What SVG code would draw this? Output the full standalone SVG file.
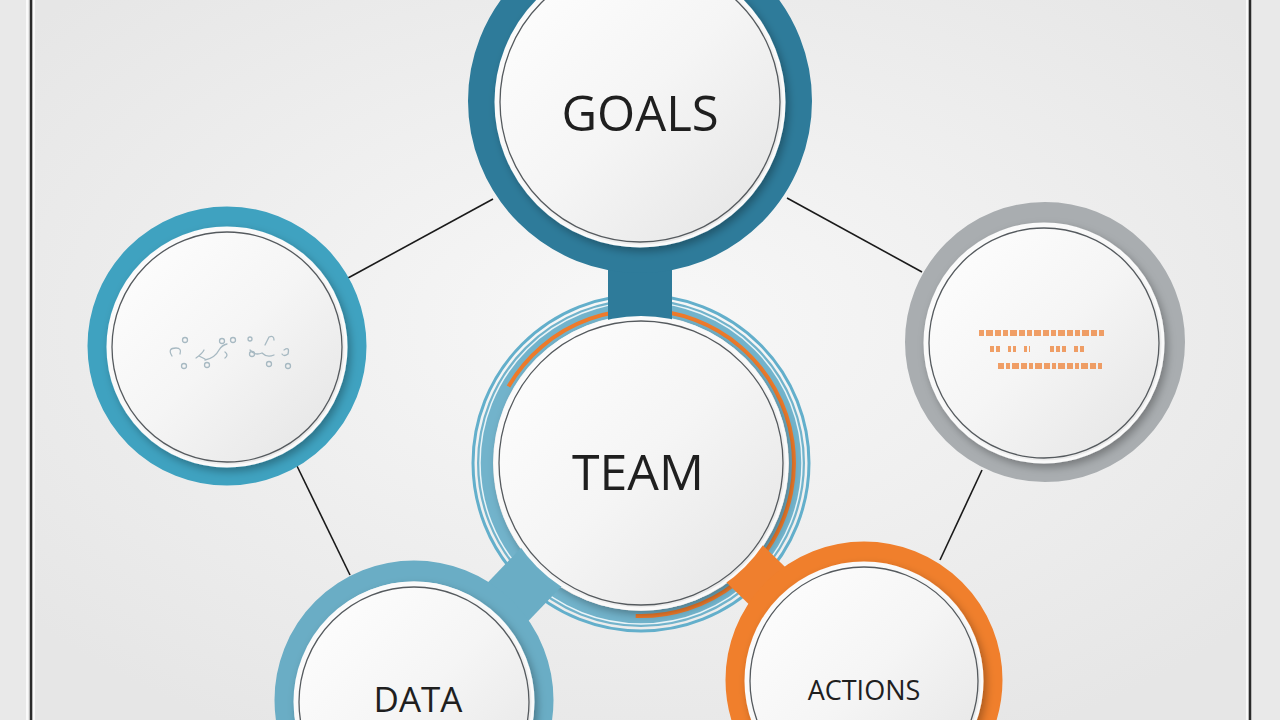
<svg xmlns="http://www.w3.org/2000/svg" width="1280" height="720" viewBox="0 0 1280 720">
<defs>
<style>
.lbl{font-family:"Open Sans","Noto Sans","Liberation Sans",sans-serif;fill:#1f1f1f;text-anchor:middle}
.edge{stroke:#1a1a1a;stroke-width:1.6;fill:none}
.disc{fill:url(#discGrad);stroke:#fafafa;stroke-width:3;filter:url(#shadow)}
.outline{fill:none;stroke:#555a5e;stroke-width:1.3}
</style>
<radialGradient id="bg" cx="50%" cy="45%" r="65%">
<stop offset="0" stop-color="#f8f8f8"/>
<stop offset="1" stop-color="#e6e6e6"/>
</radialGradient>
<linearGradient id="discGrad" x1="0" y1="0" x2="1" y2="1">
<stop offset="0" stop-color="#ffffff"/>
<stop offset="0.5" stop-color="#f5f5f5"/>
<stop offset="1" stop-color="#e3e3e3"/>
</linearGradient>
<filter id="shadow" x="-20%" y="-20%" width="140%" height="140%">
<feDropShadow dx="3" dy="4" stdDeviation="4" flood-color="#000" flood-opacity="0.3"/>
</filter>
<mask id="teamMask">
<rect x="0" y="0" width="1280" height="720" fill="#fff"/>
<circle cx="641" cy="463" r="147" fill="#000"/>
</mask>
</defs>

<rect x="0" y="0" width="1280" height="720" fill="#e9e9e9"/>
<rect x="32" y="0" width="1218" height="720" fill="url(#bg)"/>
<g id="frame">
<line x1="27" y1="0" x2="27" y2="720" stroke="#ffffff" stroke-width="1.5"/>
<line x1="31" y1="0" x2="31" y2="720" stroke="#2a2a2a" stroke-width="2.5"/>
<line x1="34" y1="0" x2="34" y2="720" stroke="#ffffff" stroke-width="1.5"/>
<line x1="1247" y1="0" x2="1247" y2="720" stroke="#ffffff" stroke-width="1.5"/>
<line x1="1250" y1="0" x2="1250" y2="720" stroke="#2a2a2a" stroke-width="2.5"/>
</g>

<g id="team">
<circle cx="641" cy="463" r="168" fill="none" stroke="#63afcb" stroke-width="3"/>
<circle cx="641" cy="463" r="156" fill="none" stroke="#72b3cb" stroke-width="16"/>
<circle cx="641" cy="463" r="161" fill="none" stroke="#e9f4f8" stroke-width="1.5"/>
<path d="M 508.5 386.5 A 153 153 0 1 1 635.7 616" fill="none" stroke="#ee7a2a" stroke-width="4"/>
<circle cx="641" cy="463" r="146" class="disc"/>
<circle cx="641" cy="463" r="142" class="outline"/>
<text class="lbl" x="638" y="490" font-size="50">TEAM</text>
</g>

<g id="connectors">
<line class="edge" x1="493" y1="199" x2="348" y2="278"/>
<line class="edge" x1="787" y1="198" x2="922" y2="272"/>
<line class="edge" x1="297" y1="466" x2="350" y2="575"/>
<line class="edge" x1="982" y1="470" x2="940" y2="560"/>
<g mask="url(#teamMask)">
<line x1="640" y1="150" x2="640" y2="463" stroke="#2e7b9a" stroke-width="64"/>
<line x1="641" y1="463" x2="414" y2="700" stroke="#6aadc5" stroke-width="56"/>
<line x1="641" y1="463" x2="864" y2="680" stroke="#ef7f2e" stroke-width="52"/>
</g>
</g>

<g id="goals">
<circle cx="640" cy="101" r="157" fill="none" stroke="#2e7b9a" stroke-width="30"/>
<circle cx="640" cy="102" r="144" class="disc"/>
<circle cx="640" cy="102" r="140" class="outline"/>
<text class="lbl" x="640" y="131" font-size="49">GOALS</text>
</g>

<g id="data">
<circle cx="414" cy="700" r="129" fill="none" stroke="#6aadc5" stroke-width="21"/>
<circle cx="414" cy="702" r="119" class="disc"/>
<circle cx="414" cy="702" r="115" class="outline"/>
<text class="lbl" x="418" y="712" font-size="35">DATA</text>
</g>

<g id="actions">
<circle cx="864" cy="680" r="128" fill="none" stroke="#f07f2c" stroke-width="21"/>
<circle cx="864" cy="681" r="118" class="disc"/>
<circle cx="864" cy="681" r="114" class="outline"/>
<text class="lbl" x="864" y="700" font-size="27">ACTIONS</text>
</g>

<g id="node-left">
<circle cx="227" cy="346" r="129" fill="none" stroke="#3fa2c0" stroke-width="21"/>
<circle cx="227" cy="347" r="119" class="disc"/>
<circle cx="227" cy="347" r="115" class="outline"/>
<g fill="none" stroke="#9fb3bd" stroke-width="1.3" stroke-linecap="round" opacity="0.9">
<path d="M172 356 q-5 -8 4 -8 q6 0 4 6"/>
<circle cx="185" cy="340" r="2.5"/>
<circle cx="184" cy="366" r="2.5"/>
<path d="M196 358 q6 -4 8 -8 M199 356 l6 3"/>
<path d="M205 360 q10 -2 14 -10 q3 -5 8 -6"/>
<circle cx="222" cy="341" r="2.5"/>
<circle cx="233" cy="340" r="2.5"/>
<path d="M225 352 q4 3 0 6"/>
<circle cx="207" cy="365" r="2.5"/>
<circle cx="250" cy="339" r="2"/>
<path d="M250 350 q5 6 12 3 q5 5 12 2"/>
<circle cx="252" cy="354" r="2.5"/>
<path d="M265 345 l4 -8 q5 -2 5 3"/>
<circle cx="269" cy="364" r="2.5"/>
<path d="M284 350 q6 -4 4 4 q-4 3 -6 0"/>
<circle cx="288" cy="366" r="2.5"/>
</g>
</g>

<g id="node-right">
<circle cx="1045" cy="342" r="129" fill="none" stroke="#a9adb0" stroke-width="22"/>
<circle cx="1044" cy="343" r="119" class="disc"/>
<circle cx="1044" cy="343" r="115" class="outline"/>
<g stroke="#ee7a2a" stroke-width="6" fill="none" opacity="0.7">
<line x1="979" y1="333" x2="1104" y2="333" stroke-dasharray="5 2 7 2 6 2"/>
<line x1="990" y1="349" x2="1000" y2="349" stroke-dasharray="4 2"/>
<line x1="1008" y1="349" x2="1016" y2="349" stroke-dasharray="3 2"/>
<line x1="1024" y1="349" x2="1030" y2="349" stroke-dasharray="3 2"/>
<line x1="1050" y1="349" x2="1068" y2="349" stroke-dasharray="4 2"/>
<line x1="1074" y1="349" x2="1085" y2="349" stroke-dasharray="4 2"/>
<line x1="998" y1="366" x2="1102" y2="366" stroke-dasharray="6 2 4 2 7 2"/>
</g>
</g>
</svg>
